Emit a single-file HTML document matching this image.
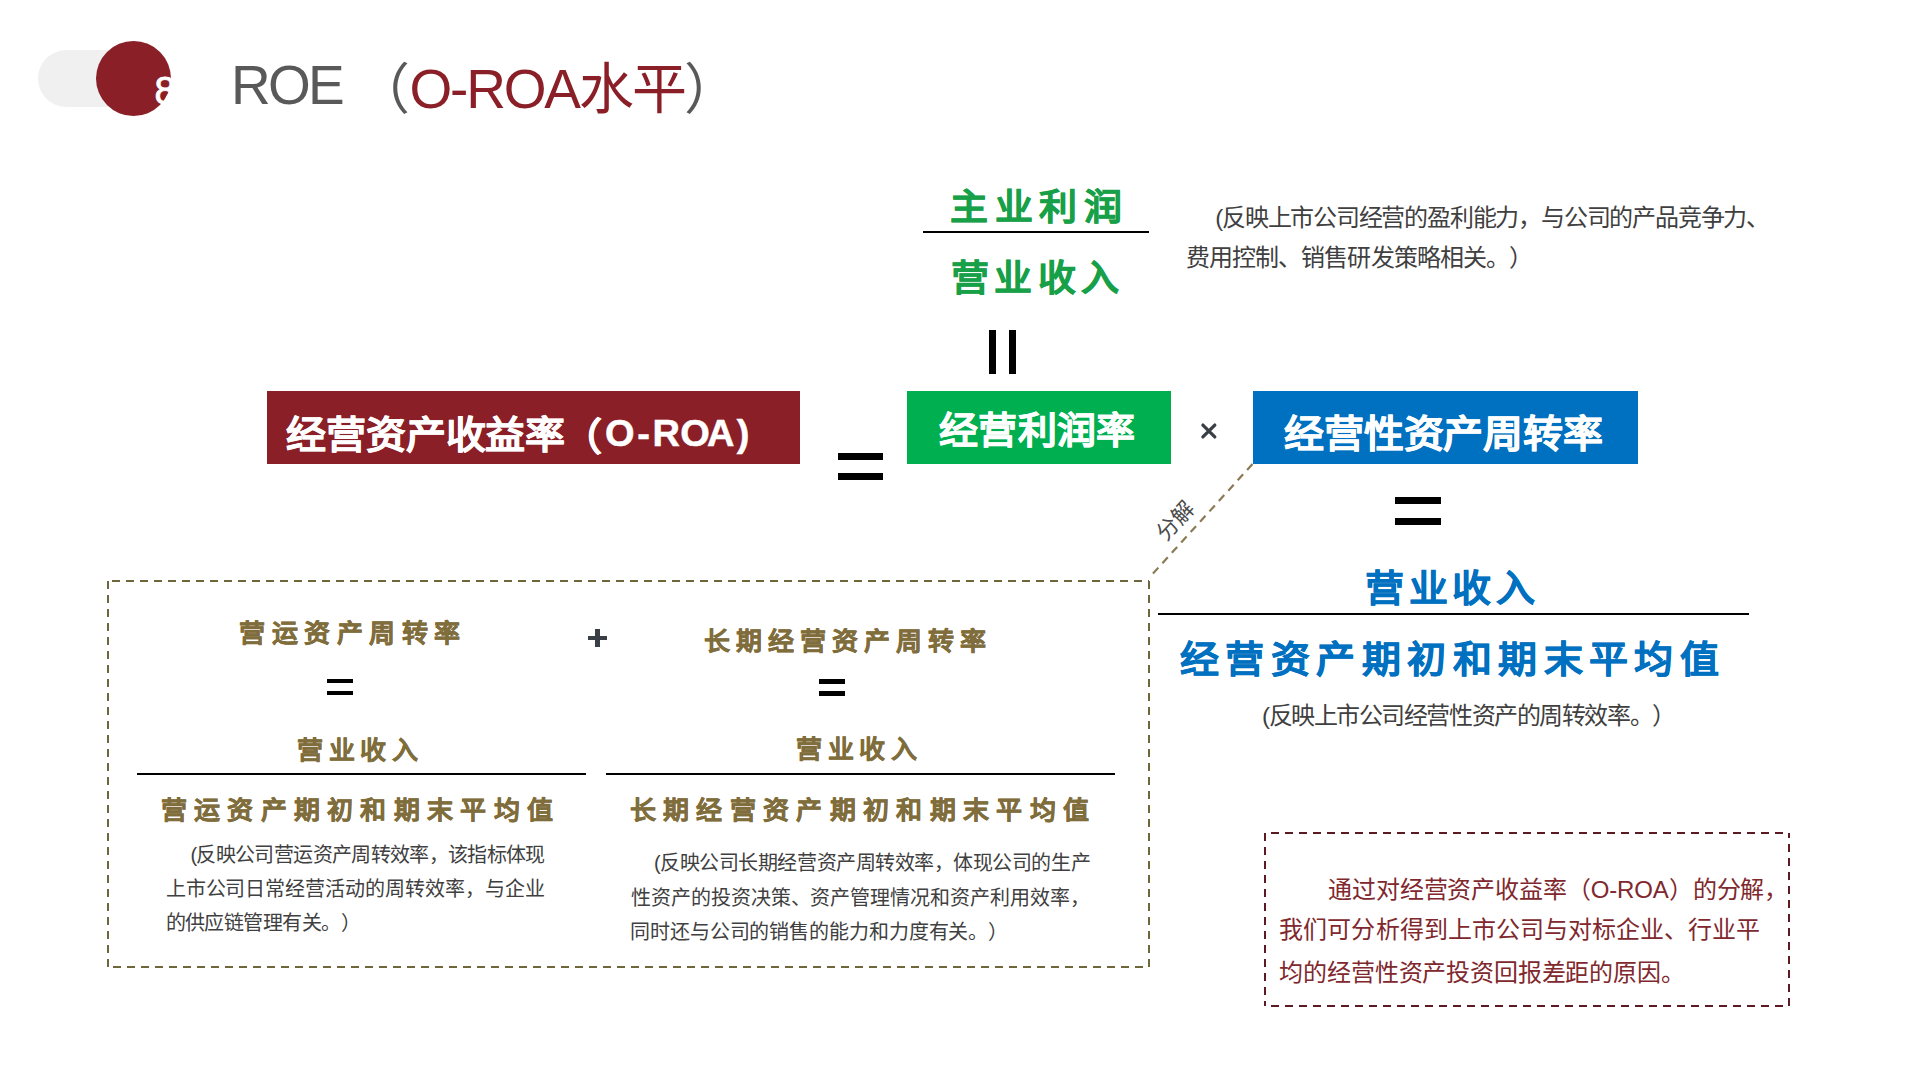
<!DOCTYPE html>
<html lang="zh-CN"><head><meta charset="utf-8">
<style>
html,body{margin:0;padding:0;background:#fff;}
body{width:1920px;height:1080px;position:relative;overflow:hidden;font-family:"Liberation Sans",sans-serif;text-spacing-trim:space-all;}
.a{position:absolute;white-space:nowrap;line-height:1;}
.box{position:absolute;}
.bar{position:absolute;background:#000;}
</style></head><body>
<div class="box" style="left:38px;top:50px;width:100px;height:57px;border-radius:28.5px;background:#f0f0f0;"></div>
<div class="box" style="left:95.5px;top:41px;width:75px;height:75px;border-radius:50%;background:#8B1F27;"></div>
<div class="bar" style="left:923px;top:231px;width:226px;height:2px;"></div>
<div class="bar" style="left:989px;top:330px;width:7.4px;height:44px;"></div>
<div class="bar" style="left:1009px;top:330px;width:7.4px;height:44px;"></div>
<div class="box" style="left:267px;top:391px;width:533px;height:73px;background:#8B1F27;"></div>
<div class="bar" style="left:838px;top:453px;width:44.5px;height:7px;"></div>
<div class="bar" style="left:838px;top:473px;width:44.5px;height:7px;"></div>
<div class="box" style="left:907px;top:391px;width:264px;height:73px;background:#00B050;"></div>
<svg class="box" style="left:1198px;top:421px;" width="22" height="20" viewBox="0 0 22 20"><path d="M4.9 4.1 L16.8 15.9 M16.8 4.1 L4.9 15.9" stroke="#3A3F45" stroke-width="3.3" stroke-linecap="round"/></svg>
<div class="box" style="left:1253px;top:391px;width:385px;height:73px;background:#0070C0;"></div>
<svg class="box" style="left:0;top:0;" width="1920" height="1080"><line x1="1252.5" y1="464" x2="1149.4" y2="577.5" stroke="#8C7A55" stroke-width="2.2" stroke-dasharray="8 6"/></svg>
<div class="bar" style="left:1395px;top:497px;width:45.5px;height:7.4px;"></div>
<div class="bar" style="left:1395px;top:518px;width:45.5px;height:7.4px;"></div>
<div class="bar" style="left:1158px;top:613px;width:591px;height:2px;"></div>

<div class="bar" style="left:327px;top:679px;width:26px;height:4.3px;"></div>
<div class="bar" style="left:327px;top:691px;width:26px;height:4.3px;"></div>
<div class="bar" style="left:137px;top:773px;width:449px;height:2px;"></div>
<div class="bar" style="left:588px;top:636px;width:19px;height:4px;background:#3A3F45;"></div>
<div class="bar" style="left:595px;top:629px;width:5px;height:18px;background:#3A3F45;"></div>
<div class="bar" style="left:818.5px;top:679px;width:26.4px;height:4.8px;"></div>
<div class="bar" style="left:818.5px;top:691px;width:26.4px;height:4.7px;"></div>
<div class="bar" style="left:606px;top:773px;width:509px;height:2px;"></div>
<svg class="box" style="left:0;top:0;" width="1920" height="1080">
<g stroke="#6E673C" stroke-width="2" fill="none" stroke-dasharray="8 6">
<line x1="108" y1="581" x2="1149" y2="581" stroke-dashoffset="-4"/>
<line x1="108" y1="581" x2="108" y2="967"/>
<line x1="1149" y1="967" x2="1149" y2="581"/>
<line x1="1149" y1="967" x2="108" y2="967" stroke-dashoffset="-6"/>
</g>
<g stroke="#5E1A22" stroke-width="2" fill="none" stroke-dasharray="8 6">
<path d="M1265 841 V833 H1789"/>
<path d="M1789 998 V1006 H1265"/>
<line x1="1265" y1="833" x2="1265" y2="1006" stroke-dashoffset="-14"/>
<line x1="1789" y1="1006" x2="1789" y2="833" stroke-dashoffset="-14"/>
</g>
</svg>

<div class="a" id="eight" style="color:#fff;-webkit-text-stroke:0.8px #fff;left:154.5px;top:71.5px;font-size:38px;letter-spacing:0px">8</div>
<div class="a" id="roe" style="color:#595959;left:231.0px;top:58.0px;font-size:55px;letter-spacing:-2.8px">ROE</div>
<div class="a" id="lp" style="color:#595959;left:355.0px;top:62.25px;font-size:55px;letter-spacing:0px">（</div>
<div class="a" id="oroa" style="color:#8B1F27;left:409.5px;top:61.6px;font-size:55px;letter-spacing:-2.2px">O-ROA水平</div>
<div class="a" id="rp" style="color:#595959;left:684px;top:62.25px;font-size:55px;letter-spacing:0px">）</div>
<div class="a" id="gnum" style="color:#18A049;left:950px;top:188.6px;font-size:38px;letter-spacing:6.5px;transform:scaleY(0.95);transform-origin:0 55%;font-weight:bold;-webkit-text-stroke:0.5px currentColor">主业利润</div>
<div class="a" id="gden" style="color:#18A049;left:951.0px;top:259.5px;font-size:38px;letter-spacing:5.43px;transform:scaleY(0.95);transform-origin:0 55%;font-weight:bold;-webkit-text-stroke:0.5px currentColor">营业收入</div>
<div class="a" id="p1a" style="color:#404040;left:1215.2px;top:206px;font-size:24px;letter-spacing:-1.21px">(反映上市公司经营的盈利能力，与公司的产品竞争力、</div>
<div class="a" id="p1b" style="color:#404040;left:1186px;top:246px;font-size:24px;letter-spacing:-0.93px">费用控制、销售研发策略相关。）</div>
<div class="a" id="redt" style="color:#fff;left:286px;top:415.4px;font-size:40px;letter-spacing:-0.12px;transform:scaleY(0.95);transform-origin:0 55%;font-weight:bold;-webkit-text-stroke:0.5px currentColor">经营资产收益率<span style="position:relative;left:-3px;top:1.5px">（</span><span style="font-size:38px;position:relative;top:-3px;letter-spacing:0"><span style="letter-spacing:2.6px">O-</span><span style="letter-spacing:0.2px">R</span><span style="letter-spacing:-2.6px">O</span><span style="letter-spacing:2.2px">A</span>)</span></div>
<div class="a" id="grt" style="color:#fff;left:939px;top:412.1px;font-size:39px;letter-spacing:0.32px;transform:scaleY(0.95);transform-origin:0 55%;font-weight:bold;-webkit-text-stroke:0.5px currentColor">经营利润率</div>
<div class="a" id="blt" style="color:#fff;left:1284px;top:414.0px;font-size:40px;letter-spacing:-0.14px;transform:scaleY(0.95);transform-origin:0 55%;font-weight:bold;-webkit-text-stroke:0.5px currentColor">经营性资产周转率</div>
<div class="a" id="fj" style="color:#4a4a4a;transform:rotate(-47.7deg);transform-origin:22px 11px;left:1154px;top:510px;font-size:22px;letter-spacing:0px">分解</div>
<div class="a" id="bnum" style="color:#0070C0;left:1365px;top:569.95px;font-size:39px;letter-spacing:4.57px;transform:scaleY(0.95);transform-origin:0 55%;font-weight:bold;-webkit-text-stroke:0.5px currentColor">营业收入</div>
<div class="a" id="bden" style="color:#0070C0;left:1180px;top:641.25px;font-size:39px;letter-spacing:6.44px;transform:scaleY(0.95);transform-origin:0 55%;font-weight:bold;-webkit-text-stroke:0.5px currentColor">经营资产期初和期末平均值</div>
<div class="a" id="bpar" style="color:#404040;left:1262px;top:704px;font-size:24px;letter-spacing:-1.44px">(反映上市公司经营性资产的周转效率。）</div>
<div class="a" id="lhead" style="color:#806D3C;left:239px;top:619.5px;font-size:26px;letter-spacing:6.5px;transform:scaleY(0.98);transform-origin:0 55%;font-weight:bold;-webkit-text-stroke:0.45px currentColor">营运资产周转率</div>
<div class="a" id="lnum" style="color:#806D3C;left:297.2px;top:737.35px;font-size:26px;letter-spacing:5.57px;transform:scaleY(0.98);transform-origin:0 55%;font-weight:bold;-webkit-text-stroke:0.45px currentColor">营业收入</div>
<div class="a" id="lden" style="color:#806D3C;left:160.6px;top:797.15px;font-size:26px;letter-spacing:7.31px;transform:scaleY(0.98);transform-origin:0 55%;font-weight:bold;-webkit-text-stroke:0.45px currentColor">营运资产期初和期末平均值</div>
<div class="a" id="lp1" style="color:#404040;left:190.4px;top:845.0px;font-size:20px;letter-spacing:-0.65px">(反映公司营运资产周转效率，该指标体现</div>
<div class="a" id="lp2" style="color:#404040;left:165.6px;top:879px;font-size:20px;letter-spacing:-0.04px">上市公司日常经营活动的周转效率，与企业</div>
<div class="a" id="lp3" style="color:#404040;left:165.6px;top:913px;font-size:20px;letter-spacing:-0.55px">的供应链管理有关。）</div>
<div class="a" id="rhead" style="color:#806D3C;left:703.6px;top:627.65px;font-size:26px;letter-spacing:6.02px;transform:scaleY(0.98);transform-origin:0 55%;font-weight:bold;-webkit-text-stroke:0.45px currentColor">长期经营资产周转率</div>
<div class="a" id="rnum" style="color:#806D3C;left:796px;top:736.1px;font-size:26px;letter-spacing:5.73px;transform:scaleY(0.98);transform-origin:0 55%;font-weight:bold;-webkit-text-stroke:0.45px currentColor">营业收入</div>
<div class="a" id="rden" style="color:#806D3C;left:629.8px;top:796.8px;font-size:26px;letter-spacing:7.32px;transform:scaleY(0.98);transform-origin:0 55%;font-weight:bold;-webkit-text-stroke:0.45px currentColor">长期经营资产期初和期末平均值</div>
<div class="a" id="rp1" style="color:#404040;left:654px;top:853.0px;font-size:20px;letter-spacing:-0.46px">(反映公司长期经营资产周转效率，体现公司的生产</div>
<div class="a" id="rp2" style="color:#404040;left:631px;top:888.0px;font-size:20px;letter-spacing:-0.06px">性资产的投资决策、资产管理情况和资产利用效率，</div>
<div class="a" id="rp3" style="color:#404040;left:630px;top:922px;font-size:20px;letter-spacing:-0.1px">同时还与公司的销售的能力和力度有关。）</div>
<div class="a" id="rt1" style="color:#80282D;left:1328.0px;top:878px;font-size:24px;letter-spacing:-0.12px">通过对经营资产收益率（O-ROA）的分解，</div>
<div class="a" id="rt2" style="color:#80282D;left:1279.4px;top:918.2px;font-size:24px;letter-spacing:0.03px">我们可分析得到上市公司与对标企业、行业平</div>
<div class="a" id="rt3" style="color:#80282D;left:1279.4px;top:961px;font-size:24px;letter-spacing:-0.17px">均的经营性资产投资回报差距的原因。</div>
</body></html>
